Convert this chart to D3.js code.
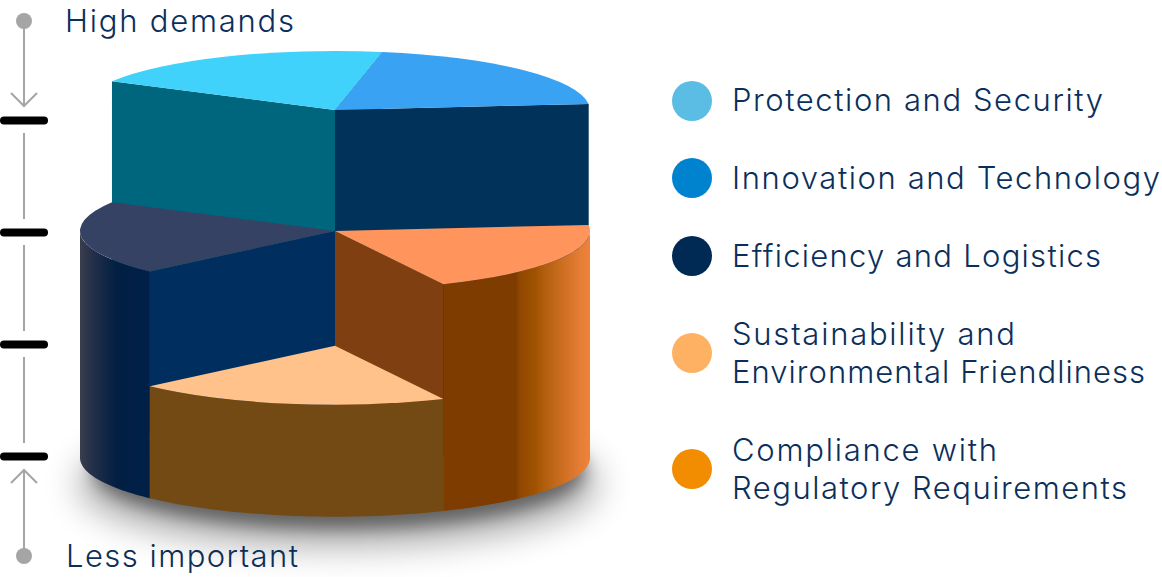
<!DOCTYPE html>
<html lang="en">

<head>
    <meta charset="UTF-8">
    <title>Priorities</title>
    <script src="https://d3js.org/d3.v7.min.js"></script>
    <style>
        body { margin: 0; background: #fff; }
        text { font-family: Inter, sans-serif; font-weight: 300; font-size: 31px; fill: #0b2f5b; }
    </style>
</head>

<body>
    <script>
        // everything below is in legend order
        var categories = ["Protection and Security", "Innovation and Technology", "Efficiency and Logistics",
            "Sustainability and\nEnvironmental Friendliness", "Compliance with\nRegulatory Requirements"];
        var legendColors = ["#5bbde3", "#0083cf", "#002a54", "#ffb163", "#f28c00"];
        var shares = [19.9, 20.4, 20.1, 19.9, 19.6];
        var levels = [3.09, 3.09, 2.01, 0.985, 2.01];
        var topColors = ["#40d2fa", "#39a2f3", "#354263", "#ffc28a", "#ff955c"];
        var sideColors = ["#00667e", "#00325a", "#002e5e", "#744a14", "#7f3f11"];
        // clockwise round the pie, starting at the teal wall
        var sliceOrder = [0, 1, 4, 3, 2];
        var axisTicks = [0, 1, 2, 3];
        var axisTop = "High demands";
        var axisBottom = "Less important";

        var width = 1162;
        var height = 577;
        var cx = 335;
        var rx = 255;
        var ry = 59;
        var baseLevel = -0.015;

        var svg = d3.select("body").append("svg")
            .attr("width", width)
            .attr("height", height)
            .style("display", "block");

        var y = d3.scaleLinear().domain([0, 3]).range([456, 120]);
        var rimX = d3.scaleLinear().domain([-1, 1]).range([cx - rx, cx + rx]);
        var rimY = d3.scaleLinear().domain([-1, 1]).range([-ry, ry]);

        var defs = svg.append("defs");
        [["blurWide", 18], ["blurTight", 8]].forEach(function (f) {
            defs.append("filter").attr("id", f[0])
                .attr("x", "-20%").attr("y", "-60%").attr("width", "140%").attr("height", "220%")
                .append("feGaussianBlur").attr("stdDeviation", f[1]);
        });

        function gradient(id, stops) {
            var g = defs.append("linearGradient").attr("id", id)
                .attr("gradientUnits", "userSpaceOnUse")
                .attr("x1", rimX(-1)).attr("x2", rimX(1)).attr("y1", 0).attr("y2", 0);
            stops.forEach(function (s) {
                g.append("stop").attr("offset", (s[0] - rimX(-1)) / (rimX(1) - rimX(-1))).attr("stop-color", s[1]);
            });
            return "url(#" + id + ")";
        }
        var navyRim = gradient("navyRim", [[79, "#3b3e4d"], [92, "#25304a"], [116, "#021f42"], [150, "#002048"]]);
        var orangeRim = gradient("orangeRim", [[444, "#7f3c00"], [516, "#7f3c00"], [520, "#914800"], [535, "#a05200"], [545, "#b25f0f"], [560, "#c96c1e"], [580, "#e57d35"], [589, "#ee8239"]]);
        var rimFills = [null, null, navyRim, sideColors[3], orangeRim];

        var pie = d3.pie().value(function (d) { return d.share; }).sort(null)
            .startAngle(299 * Math.PI / 180).endAngle(659 * Math.PI / 180);
        var slices = pie(sliceOrder.map(function (c) {
            return { share: shares[c], level: levels[c], top: topColors[c], side: sideColors[c], rim: rimFills[c] };
        }));

        function px(a) { return rimX(Math.sin(a)); }
        function py(a, lvl) { return y(lvl) + rimY(-Math.cos(a)); }
        var line = d3.line();

        // shadow under the base, a wide soft one and a tighter one at the front
        svg.append("ellipse")
            .attr("cx", cx + 3).attr("cy", y(baseLevel) + 26)
            .attr("rx", rx + 4).attr("ry", ry + 2)
            .attr("fill", "#000").attr("opacity", 0.36)
            .attr("filter", "url(#blurWide)");
        svg.append("ellipse")
            .attr("cx", cx + 4).attr("cy", y(baseLevel) + 12)
            .attr("rx", rx - 8).attr("ry", ry)
            .attr("fill", "#000").attr("opacity", 0.4)
            .attr("filter", "url(#blurTight)");

        var arc = d3.arc().innerRadius(0).outerRadius(rx);

        // back to front
        var order = slices.slice().sort(function (a, b) {
            return Math.cos((b.startAngle + b.endAngle) / 2) - Math.cos((a.startAngle + a.endAngle) / 2);
        });

        order.forEach(function (s) {
            var g = svg.append("g");
            var lvl = s.data.level;
            // radial walls that face the viewer
            [s.startAngle, s.endAngle].forEach(function (a, i) {
                var sn = Math.sin(a);
                if (!((i === 0 && sn < 0) || (i === 1 && sn > 0))) return;
                g.append("path")
                    .attr("d", line([
                        [cx, y(lvl)], [px(a), py(a, lvl)],
                        [px(a), py(a, baseLevel)], [cx, y(baseLevel)]
                    ]) + "Z")
                    .attr("fill", s.data.side);
            });
            // outer wall, front half of the rim only
            var wrap = s.startAngle >= 2 * Math.PI ? 2 * Math.PI : 0;
            var a0 = Math.max(s.startAngle - wrap, Math.PI / 2);
            var a1 = Math.min(s.endAngle - wrap, 3 * Math.PI / 2);
            if (a1 > a0 && s.data.rim) {
                var steps = d3.range(0, 41).map(function (k) { return a0 + (a1 - a0) * k / 40; });
                var pts = steps.map(function (a) { return [px(a), py(a, lvl)]; })
                    .concat(steps.slice().reverse().map(function (a) { return [px(a), py(a, baseLevel)]; }));
                g.append("path").attr("d", line(pts) + "Z").attr("fill", s.data.rim);
            }
            // top face
            g.append("path")
                .attr("d", arc(s))
                .attr("transform", "translate(" + cx + "," + y(lvl) + ") scale(1," + (ry / rx) + ")")
                .attr("fill", s.data.top);
        });

        // scale on the left
        var gray = "#a5a5a5";
        var axisX = 24;
        var axis = d3.axisRight(y).tickValues(axisTicks).tickSize(40).tickFormat("");
        var axisG = svg.append("g").attr("transform", "translate(4,0)").call(axis);
        axisG.select(".domain").remove();
        axisG.selectAll("line").attr("stroke", "#000").attr("stroke-width", 8).attr("stroke-linecap", "round");

        var guide = svg.append("g").attr("stroke", gray).attr("stroke-width", 2).attr("fill", "none");
        d3.pairs(axisTicks).forEach(function (p) {
            guide.append("path").attr("d", line([[axisX, y(p[1]) + 13], [axisX, y(p[0]) - 13]]));
        });
        var yTop = y(3) - 14, yBot = y(0) + 14;
        guide.append("path").attr("d", line([[axisX, 21], [axisX, yTop]]));
        guide.append("path").attr("d", line([[axisX - 13, yTop - 13], [axisX, yTop], [axisX + 13, yTop - 13]]));
        guide.append("path").attr("d", line([[axisX, 556], [axisX, yBot]]));
        guide.append("path").attr("d", line([[axisX - 13, yBot + 13], [axisX, yBot], [axisX + 13, yBot + 13]]));
        svg.append("circle").attr("cx", axisX).attr("cy", 21).attr("r", 8).attr("fill", gray);
        svg.append("circle").attr("cx", axisX).attr("cy", 556).attr("r", 8).attr("fill", gray);

        svg.append("text").attr("x", 65).attr("y", 32).attr("textLength", 229).text(axisTop);
        svg.append("text").attr("x", 66).attr("y", 567).attr("textLength", 232).text(axisBottom);

        // legend
        var legendDotY = [101, 178, 256, 353, 469];
        var legendBase = [[111], [189], [267], [345, 383], [461, 499]];
        var legendWidth = [[371], [428], [369], [283, 413], [265, 395]];
        var legend = svg.selectAll("g.legend").data(categories).enter().append("g").attr("class", "legend");
        legend.append("circle")
            .attr("cx", 692).attr("cy", function (d, i) { return legendDotY[i]; })
            .attr("r", 20)
            .attr("fill", function (d, i) { return legendColors[i]; });
        legend.each(function (d, i) {
            var row = d3.select(this);
            d.split("\n").forEach(function (t, j) {
                row.append("text").attr("x", 732).attr("y", legendBase[i][j])
                    .attr("textLength", legendWidth[i][j]).text(t);
            });
        });
    </script>
</body>

</html>
